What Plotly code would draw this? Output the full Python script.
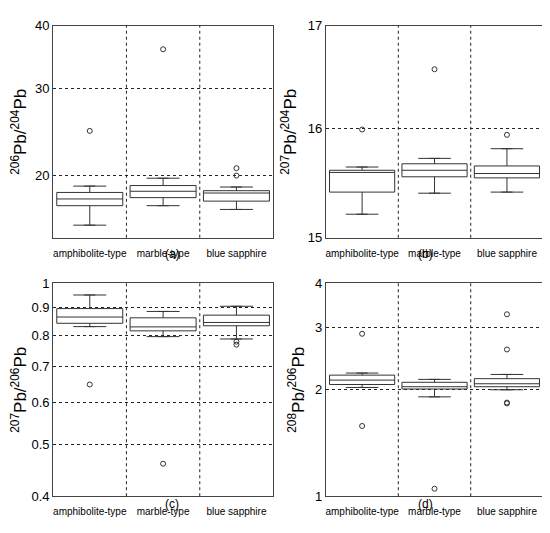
import math
import plotly.graph_objects as go

cats = ['amphibolite-type', 'marble-type', 'blue sapphire']

# panel (a) 206Pb/204Pb
a_low = [15.9, 17.4, 17.1]
a_q1 = [17.4, 18.06, 17.77]
a_med = [17.95, 18.6, 18.45]
a_q3 = [18.5, 19.1, 18.65]
a_up = [19.05, 19.76, 18.97]
a_out_x = ['amphibolite-type', 'marble-type', 'blue sapphire', 'blue sapphire']
a_out_y = [24.6, 35.9, 20.7, 20.0]

# panel (b) 207Pb/204Pb
b_low = [15.21, 15.40, 15.41]
b_q1 = [15.41, 15.55, 15.54]
b_med = [15.59, 15.61, 15.58]
b_q3 = [15.61, 15.67, 15.65]
b_up = [15.64, 15.72, 15.81]
b_out_x = ['amphibolite-type', 'marble-type', 'blue sapphire']
b_out_y = [15.99, 16.57, 15.94]

# panel (c) 207Pb/206Pb
c_low = [0.83, 0.795, 0.787]
c_q1 = [0.842, 0.815, 0.833]
c_med = [0.865, 0.829, 0.845]
c_q3 = [0.897, 0.862, 0.872]
c_up = [0.951, 0.886, 0.906]
c_out_x = ['amphibolite-type', 'marble-type', 'blue sapphire', 'blue sapphire']
c_out_y = [0.647, 0.46, 0.778, 0.768]

# panel (d) 208Pb/206Pb
d_low = [2.03, 1.91, 2.0]
d_q1 = [2.07, 2.01, 2.04]
d_med = [2.13, 2.04, 2.08]
d_q3 = [2.20, 2.10, 2.15]
d_up = [2.23, 2.14, 2.21]
d_out_x = ['amphibolite-type', 'amphibolite-type', 'marble-type', 'blue sapphire', 'blue sapphire', 'blue sapphire', 'blue sapphire']
d_out_y = [2.88, 1.58, 1.05, 3.27, 2.60, 1.84, 1.83]

panels = [
    ('x', 'y', a_low, a_q1, a_med, a_q3, a_up, a_out_x, a_out_y),
    ('x2', 'y2', b_low, b_q1, b_med, b_q3, b_up, b_out_x, b_out_y),
    ('x3', 'y3', c_low, c_q1, c_med, c_q3, c_up, c_out_x, c_out_y),
    ('x4', 'y4', d_low, d_q1, d_med, d_q3, d_up, d_out_x, d_out_y),
]

fig = go.Figure()
for xa, ya, lo, q1, med, q3, up, ox, oy in panels:
    fig.add_trace(go.Box(x=cats, lowerfence=lo, q1=q1, median=med, q3=q3, upperfence=up,
                         xaxis=xa, yaxis=ya, width=0.9, fillcolor='white',
                         line=dict(color='#333', width=1), boxpoints=False,
                         hoverinfo='skip', showlegend=False))
    # whisker caps
    fig.add_trace(go.Scatter(x=cats + cats, y=lo + up, mode='markers', xaxis=xa, yaxis=ya,
                             marker=dict(symbol='line-ew', size=8, line=dict(color='#333', width=1)),
                             showlegend=False, hoverinfo='skip'))
    fig.add_trace(go.Scatter(x=ox, y=oy, mode='markers', xaxis=xa, yaxis=ya,
                             marker=dict(symbol='circle-open', size=5, color='#333', line=dict(width=1)),
                             showlegend=False))

xdom = [[0.082, 0.482], [0.578, 0.973]]
ydom = [[0.570, 0.979], [0.071, 0.482]]
yranges = [[15, 40], [15, 17], [0.4, 1], [1, 4]]
yticks = [[20, 30, 40], [15, 16, 17], [0.4, 0.5, 0.6, 0.7, 0.8, 0.9, 1], [1, 2, 3, 4]]
ytitles = ['<sup>206</sup>Pb/<sup>204</sup>Pb', '<sup>207</sup>Pb/<sup>204</sup>Pb',
           '<sup>207</sup>Pb/<sup>206</sup>Pb', '<sup>208</sup>Pb/<sup>206</sup>Pb']
labels = ['(a)', '(b)', '(c)', '(d)']

grid = dict(showgrid=True, gridcolor='#222', griddash='dot', gridwidth=1)
lay = {}
for i in range(4):
    s = '' if i == 0 else str(i + 1)
    xd = xdom[i % 2]
    yd = ydom[i // 2]
    lay['xaxis' + s] = dict(domain=xd, anchor='y' + s, range=[-0.5, 2.5], showgrid=False,
                            showline=True, mirror=True, linecolor='#444', ticks='outside',
                            ticklen=6, tickcolor='rgba(0,0,0,0)',
                            tickfont=dict(size=10, color='black'))
    lay['yaxis' + s] = dict(domain=yd, anchor='x' + s, type='log',
                            range=[math.log10(yranges[i][0]), math.log10(yranges[i][1])],
                            tickvals=yticks[i], ticktext=[str(v) for v in yticks[i]],
                            showline=True, mirror=True, linecolor='#444', ticks='',
                            tickfont=dict(size=13, color='black'),
                            title=dict(text=ytitles[i], font=dict(size=17, color='black'), standoff=6),
                            **grid)

fig.update_layout(width=550, height=533, margin=dict(l=0, r=0, t=0, b=0),
                  plot_bgcolor='white', paper_bgcolor='white',
                  font=dict(family='Liberation Sans, Arial', color='black'), **lay)

# vertical dotted separators between categories
for i in range(4):
    s = '' if i == 0 else str(i + 1)
    for xv in [0.5, 1.5]:
        fig.add_shape(type='line', xref='x' + s, yref='y' + s + ' domain', x0=xv, x1=xv, y0=0, y1=1,
                      line=dict(color='#222', width=1, dash='dot'))
    xd = xdom[i % 2]
    yd = ydom[i // 2]
    fig.add_annotation(text=labels[i], xref='paper', yref='paper', x=(xd[0] + xd[1]) / 2,
                       y=yd[0] - 0.032, showarrow=False, font=dict(size=12, color='black'))

fig.write_html("out.html")
